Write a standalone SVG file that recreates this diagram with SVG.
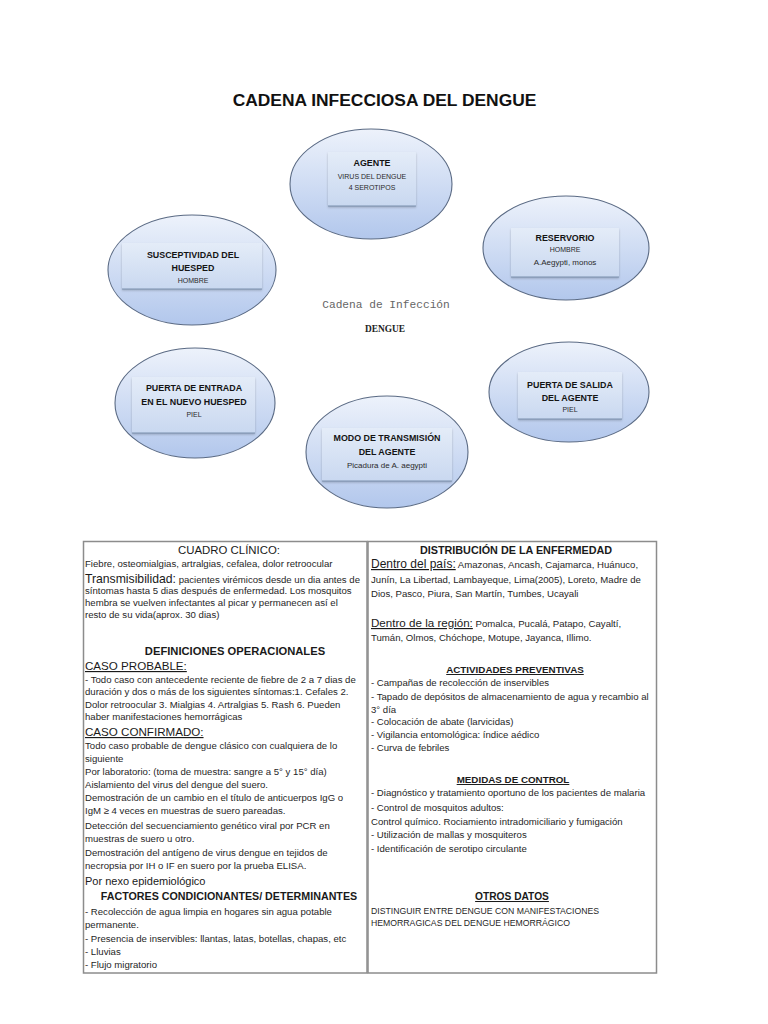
<svg xmlns="http://www.w3.org/2000/svg" width="768" height="1024" viewBox="0 0 768 1024">
<defs>
  <linearGradient id="eg" x1="0" y1="0" x2="0" y2="1">
    <stop offset="0" stop-color="#edf2fb"/>
    <stop offset="1" stop-color="#b2c7ec"/>
  </linearGradient>
  <linearGradient id="rg" x1="0" y1="0" x2="0" y2="1">
    <stop offset="0" stop-color="#e4ecf8"/>
    <stop offset="1" stop-color="#c9d8f0"/>
  </linearGradient>
  <filter id="sh" x="-10%" y="-10%" width="120%" height="140%">
    <feDropShadow dx="0" dy="1.5" stdDeviation="1.2" flood-color="#000" flood-opacity="0.22"/>
  </filter>
</defs>
<style>
  .ell{fill:url(#eg);stroke:#5a6a84;stroke-width:1.1}
  .box{fill:url(#rg);filter:url(#sh)}
  .bl{stroke:#7b8fae;stroke-width:1.2}
  .h{font-family:"Liberation Sans",Arial,sans-serif;font-weight:bold;font-size:8.9px;fill:#141414;text-anchor:middle}
  .s{font-family:"Liberation Sans",Arial,sans-serif;font-size:7px;fill:#2a2a2a;text-anchor:middle}
  .sm{font-family:"Liberation Sans",Arial,sans-serif;font-size:8px;fill:#2a2a2a;text-anchor:middle}
  .t{font-family:"Liberation Sans",Arial,sans-serif;font-size:9.6px;fill:#1f1f1f}
  .caps{font-family:"Liberation Sans",Arial,sans-serif;font-size:8.7px;fill:#1f1f1f}
  .hd{font-family:"Liberation Sans",Arial,sans-serif;font-weight:bold;fill:#1a1a1a;text-anchor:middle}
  .big{font-family:"Liberation Sans",Arial,sans-serif;fill:#1a1a1a}
  .u{text-decoration:underline}
  .frame{fill:none;stroke:#8c8c8c;stroke-width:1.5}
</style>
<rect width="768" height="1024" fill="#fff"/>

<text x="384.5" y="106" font-family="Liberation Sans, Arial, sans-serif" font-weight="bold" font-size="17.4" fill="#111" text-anchor="middle">CADENA INFECCIOSA DEL DENGUE</text>

<g id="agente">
  <ellipse class="ell" cx="371" cy="184" rx="81" ry="55"/>
  <rect class="box" x="328" y="152" width="88" height="54"/>
  <line class="bl" x1="328" y1="206" x2="416" y2="206"/>
  <text class="h" x="372" y="166">AGENTE</text>
  <text class="s" x="372" y="179">VIRUS DEL DENGUE</text>
  <text class="s" x="372" y="190">4 SEROTIPOS</text>
</g>

<g id="susceptividad">
  <ellipse class="ell" cx="192" cy="270" rx="84" ry="55"/>
  <rect class="box" x="122" y="243" width="140" height="46"/>
  <line class="bl" x1="122" y1="289" x2="262" y2="289"/>
  <text class="h" x="193" y="258">SUSCEPTIVIDAD DEL</text>
  <text class="h" x="193" y="271">HUESPED</text>
  <text class="s" x="193" y="283">HOMBRE</text>
</g>

<g id="reservorio">
  <ellipse class="ell" cx="566" cy="248" rx="83" ry="52"/>
  <rect class="box" x="511" y="228" width="108" height="49"/>
  <line class="bl" x1="511" y1="277" x2="619" y2="277"/>
  <text class="h" x="565" y="241">RESERVORIO</text>
  <text class="s" x="565" y="252">HOMBRE</text>
  <text class="sm" x="565" y="265">A.Aegypti, monos</text>
</g>

<g id="centro">
  <text x="386" y="308" font-family="Liberation Mono, Courier New, monospace" font-size="11.2" fill="#666" text-anchor="middle">Cadena de Infección</text>
  <text x="385" y="331.5" font-family="Liberation Serif, Times New Roman, serif" font-weight="bold" font-size="9.4" fill="#222" text-anchor="middle">DENGUE</text>
</g>

<g id="puerta-entrada">
  <ellipse class="ell" cx="195" cy="403" rx="80" ry="55"/>
  <rect class="box" x="132" y="377" width="123" height="56"/>
  <line class="bl" x1="132" y1="433" x2="255" y2="433"/>
  <text class="h" x="194" y="391">PUERTA DE ENTRADA</text>
  <text class="h" x="194" y="405">EN EL NUEVO HUESPED</text>
  <text class="s" x="194" y="417">PIEL</text>
</g>

<g id="puerta-salida">
  <ellipse class="ell" cx="569" cy="392" rx="80" ry="50"/>
  <rect class="box" x="518" y="372" width="104" height="47"/>
  <line class="bl" x1="518" y1="419" x2="622" y2="419"/>
  <text class="h" x="570" y="388">PUERTA DE SALIDA</text>
  <text class="h" x="570" y="401">DEL AGENTE</text>
  <text class="s" x="570" y="412">PIEL</text>
</g>

<g id="modo-transmision">
  <ellipse class="ell" cx="387" cy="452" rx="81" ry="56"/>
  <rect class="box" x="322" y="428" width="130" height="53"/>
  <line class="bl" x1="322" y1="481" x2="452" y2="481"/>
  <text class="h" x="387" y="441">MODO DE TRANSMISIÓN</text>
  <text class="h" x="387" y="455">DEL AGENTE</text>
  <text class="sm" x="387" y="468">Picadura de A. aegypti</text>
</g>

<g id="connectors"></g>

<g id="tabla">
  <rect class="frame" x="83.5" y="541.5" width="283.5" height="431.5"/>
  <rect class="frame" x="368" y="541.5" width="288.5" height="431.5"/>

  <g id="col-izq">
    <text class="big" x="229" y="554" font-size="11.4" text-anchor="middle">CUADRO CLÍNICO:</text>
    <text class="t" x="85" y="567">Fiebre, osteomialgias, artralgias, cefalea, dolor retroocular</text>
    <text class="t" x="85" y="583"><tspan font-size="12.2" fill="#1a1a1a">Transmisibilidad:</tspan> pacientes virémicos desde un dia antes de</text>
    <text class="t" x="85" y="594">síntomas hasta 5 dias después de enfermedad. Los mosquitos</text>
    <text class="t" x="85" y="606">hembra se vuelven infectantes al picar y permanecen así el</text>
    <text class="t" x="85" y="618">resto de su vida(aprox. 30 dias)</text>
    <text class="hd" x="235" y="655" font-size="11.2">DEFINICIONES OPERACIONALES</text>
    <text class="big u" x="85" y="670" font-size="11.6">CASO PROBABLE:</text>
    <text class="t" x="85" y="683">- Todo caso con antecedente reciente de fiebre de 2 a 7 dias de</text>
    <text class="t" x="85" y="695">duración y dos o más de los siguientes síntomas:1. Cefales 2.</text>
    <text class="t" x="85" y="708">Dolor retroocular 3. Mialgias 4. Artralgias 5. Rash 6. Pueden</text>
    <text class="t" x="85" y="720">haber manifestaciones hemorrágicas</text>
    <text class="big u" x="85" y="736" font-size="11.6">CASO CONFIRMADO:</text>
    <text class="t" x="85" y="749">Todo caso probable de dengue clásico con cualquiera de lo</text>
    <text class="t" x="85" y="762">siguiente</text>
    <text class="t" x="85" y="775">Por laboratorio: (toma de muestra: sangre a 5° y 15° día)</text>
    <text class="t" x="85" y="788">Aislamiento del virus del dengue del suero.</text>
    <text class="t" x="85" y="801">Demostración de un cambio en el título de anticuerpos IgG o</text>
    <text class="t" x="85" y="814">IgM ≥ 4 veces en muestras de suero pareadas.</text>
    <text class="t" x="85" y="829">Detección del secuenciamiento genético viral por PCR  en</text>
    <text class="t" x="85" y="842">muestras de suero u otro.</text>
    <text class="t" x="85" y="856">Demostración del antígeno de virus dengue en tejidos de</text>
    <text class="t" x="85" y="869">necropsia por IH o IF en suero por la prueba ELISA.</text>
    <text class="big" x="85" y="885" font-size="11">Por nexo epidemiológico</text>
    <text class="hd" x="229" y="900" font-size="10.7">FACTORES CONDICIONANTES/ DETERMINANTES</text>
    <text class="t" x="85" y="915">- Recolección de agua limpia en hogares sin agua potable</text>
    <text class="t" x="85" y="928">permanente.</text>
    <text class="t" x="85" y="942">- Presencia de inservibles: llantas, latas, botellas, chapas, etc</text>
    <text class="t" x="85" y="955">- Lluvias</text>
    <text class="t" x="85" y="968">- Flujo migratorio</text>
  </g>

  <g id="col-der">
    <text class="hd" x="516" y="554" font-size="10.8">DISTRIBUCIÓN DE LA ENFERMEDAD</text>
    <text class="t" x="371" y="568"><tspan class="u" font-size="12" fill="#1a1a1a">Dentro del país:</tspan> Amazonas, Ancash, Cajamarca, Huánuco,</text>
    <text class="t" x="371" y="583">Junín, La Libertad, Lambayeque, Lima(2005), Loreto, Madre de</text>
    <text class="t" x="371" y="597">Dios, Pasco, Piura, San Martín, Tumbes, Ucayali</text>
    <text class="t" x="371" y="627"><tspan class="u" font-size="11.6" fill="#1a1a1a">Dentro de la región:</tspan> Pomalca, Pucalá, Patapo, Cayaltí,</text>
    <text class="t" x="371" y="641">Tumán, Olmos, Chóchope, Motupe, Jayanca, Illimo.</text>
    <text class="hd u" x="515" y="673" font-size="9.8">ACTIVIDADES PREVENTIVAS</text>
    <text class="t" x="371" y="686">- Campañas de recolección de inservibles</text>
    <text class="t" x="371" y="700">- Tapado de depósitos de almacenamiento de agua y recambio al</text>
    <text class="t" x="371" y="713">3° día</text>
    <text class="t" x="371" y="725">- Colocación de abate (larvicidas)</text>
    <text class="t" x="371" y="738">- Vigilancia entomológica: índice aédico</text>
    <text class="t" x="371" y="751">- Curva de febriles</text>
    <text class="hd u" x="513" y="783" font-size="9.8">MEDIDAS DE CONTROL</text>
    <text class="t" x="371" y="796">- Diagnóstico y tratamiento oportuno de los pacientes de malaria</text>
    <text class="t" x="371" y="811">- Control de mosquitos adultos:</text>
    <text class="t" x="371" y="825">Control químico. Rociamiento intradomiciliario y  fumigación</text>
    <text class="t" x="371" y="838">- Utilización de mallas y mosquiteros</text>
    <text class="t" x="371" y="852">- Identificación de serotipo circulante</text>
    <text class="hd u" x="512" y="900" font-size="10.2">OTROS DATOS</text>
    <text class="caps" x="371" y="914">DISTINGUIR ENTRE DENGUE CON MANIFESTACIONES</text>
    <text class="caps" x="371" y="926">HEMORRAGICAS DEL DENGUE HEMORRÁGICO</text>
  </g>
</g>
</svg>
